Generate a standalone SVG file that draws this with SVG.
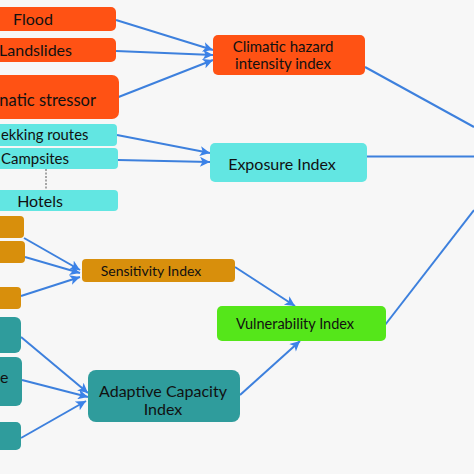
<svg xmlns="http://www.w3.org/2000/svg" width="474" height="474" viewBox="0 0 474 474">
<defs>
<marker id="ah" viewBox="0 0 10 10" refX="10" refY="5" markerWidth="12" markerHeight="10" markerUnits="userSpaceOnUse" orient="auto">
<path d="M0,0 L10,5 L0,10 L2.5,5 z" fill="#3b82e8"/>
</marker>
<style>
.t{font-family:Lato,"Open Sans","Liberation Sans",sans-serif;fill:#111}
.red{fill:#ff5214}
.cy{fill:#62e6e2}
.gd{fill:#d88f0c}
.tl{fill:#2f9c9c}
.gr{fill:#55e61a}
.c{stroke:#3d80dd;stroke-width:2;fill:none}
.ca{stroke:#3d80dd;stroke-width:2;fill:none;marker-end:url(#ah)}
</style>
</defs>
<rect width="474" height="474" fill="#f7f7f7"/>
<g id="connectors">
<line class="ca" x1="116" y1="20" x2="213" y2="50"/>
<line class="ca" x1="116" y1="51" x2="213" y2="55"/>
<line class="ca" x1="116" y1="98" x2="213" y2="60"/>
<line class="ca" x1="117" y1="135" x2="210" y2="153"/>
<line class="ca" x1="118" y1="160" x2="210" y2="162"/>
<line x1="46" y1="169" x2="46" y2="190" stroke="#555" stroke-width="1" stroke-dasharray="2,1.5"/>
<line class="ca" x1="24" y1="238" x2="80" y2="270"/>
<line class="ca" x1="25" y1="257" x2="80" y2="273"/>
<line class="ca" x1="21" y1="296" x2="80" y2="277"/>
<line class="ca" x1="21" y1="337" x2="88" y2="393"/>
<line class="ca" x1="22" y1="380" x2="88" y2="397"/>
<line class="ca" x1="21" y1="438" x2="86" y2="401"/>
<line class="ca" x1="235" y1="267" x2="295" y2="306"/>
<line class="ca" x1="240" y1="395" x2="300" y2="341"/>
<line class="c" x1="365" y1="67" x2="474" y2="127"/>
<line class="c" x1="367" y1="156.5" x2="474" y2="156.5"/>
<line class="c" x1="385" y1="325" x2="474" y2="210"/>
</g>
<g id="flood"><rect class="red" x="-60" y="7" width="176" height="24" rx="5"/><text class="t" x="33" y="25" font-size="16" text-anchor="middle">Flood</text></g>
<g id="landslides"><rect class="red" x="-60" y="38" width="176" height="24" rx="5"/><text class="t" x="72" y="56" font-size="16" text-anchor="end">Landslides</text></g>
<g id="stressor"><rect class="red" x="-60" y="75" width="179" height="44" rx="7"/><text class="t" x="96" y="106" font-size="16.5" text-anchor="end">natic stressor</text></g>
<g id="trekking"><rect class="cy" x="-60" y="124" width="177" height="22" rx="4"/><text class="t" x="1" y="140" font-size="14.8">ekking routes</text></g>
<g id="campsites"><rect class="cy" x="-60" y="148" width="178" height="21" rx="4"/><text class="t" x="69" y="164" font-size="15" text-anchor="end">Campsites</text></g>
<g id="hotels"><rect class="cy" x="-60" y="190" width="178" height="21" rx="4"/><text class="t" x="40" y="207" font-size="16" text-anchor="middle">Hotels</text></g>
<g id="s1"><rect class="gd" x="-60" y="216" width="84" height="22" rx="4"/></g>
<g id="s2"><rect class="gd" x="-60" y="241" width="85" height="22" rx="4"/></g>
<g id="s3"><rect class="gd" x="-60" y="287" width="81" height="22" rx="4"/></g>
<g id="a1"><rect class="tl" x="-60" y="317" width="81" height="36" rx="6"/></g>
<g id="a2"><rect class="tl" x="-60" y="357" width="82" height="49" rx="6"/><text class="t" x="0" y="383" font-size="16">e</text></g>
<g id="a3"><rect class="tl" x="-60" y="422" width="81" height="28" rx="5"/></g>
<g id="hazard"><rect class="red" x="213" y="35" width="152" height="40" rx="5"/><text class="t" x="283" y="52" font-size="15" text-anchor="middle">Climatic hazard</text><text class="t" x="283" y="69" font-size="15" text-anchor="middle">intensity index</text></g>
<g id="exposure"><rect class="cy" x="210" y="143" width="157" height="39" rx="5"/><text class="t" x="282" y="170" font-size="16" text-anchor="middle">Exposure Index</text></g>
<g id="sensitivity"><rect class="gd" x="82" y="259" width="153" height="23" rx="4"/><text class="t" x="151" y="276" font-size="14" text-anchor="middle">Sensitivity Index</text></g>
<g id="adaptive"><rect class="tl" x="88" y="370" width="152" height="52" rx="8"/><text class="t" x="163" y="397" font-size="16" text-anchor="middle">Adaptive Capacity</text><text class="t" x="163" y="415" font-size="16" text-anchor="middle">Index</text></g>
<g id="vulnerability"><rect class="gr" x="217" y="306" width="169" height="35" rx="5"/><text class="t" x="295" y="329" font-size="14.5" text-anchor="middle">Vulnerability Index</text></g>
</svg>
